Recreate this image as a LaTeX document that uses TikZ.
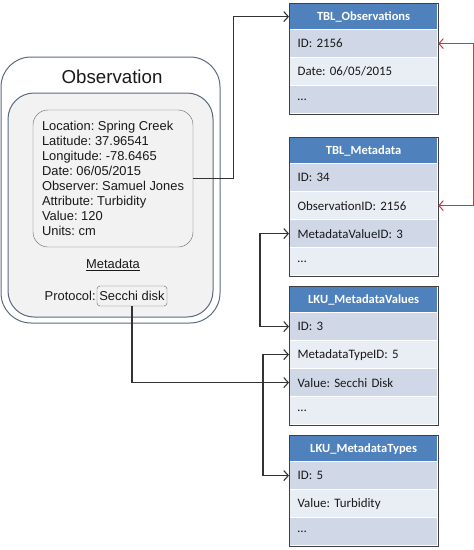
\documentclass[tikz,border=0pt]{standalone}
\usepackage{fontspec}
\setmainfont{Liberation Sans}
\newfontfamily\calfont{Carlito}
\usetikzlibrary{arrows.meta}

\definecolor{hdblue}{HTML}{4F81BD}
\definecolor{rowdark}{HTML}{D0D8E8}
\definecolor{rowlight}{HTML}{E9EDF4}
\definecolor{boxline}{HTML}{5A6A80}
\definecolor{boxfill}{HTML}{F2F2F2}
\definecolor{linkred}{HTML}{E0303A}

% name, top, number of rows, header, rows
\newcommand{\dbtable}[5]{%
  \node[tblhead] (#1) at (289,#2) {#4};
  \foreach \txt [count=\i] in {#5}{
    \ifodd\i \def\rowcol{rowdark}\else\def\rowcol{rowlight}\fi
    \node[tblrow,fill=\rowcol] (#1-\i) at (289,#2+26+28*\i-28) {\txt};
  }
  \draw[tblborder] (#1.north west) rectangle (#1-#3.south east);
}

\begin{document}
\frenchspacing
\begin{tikzpicture}[x=1pt,y=-1pt,>={Straight Barb[length=4.5pt,width=10pt]}]
\tikzstyle{every node}=[font=\fontsize{12.9}{15.1}\selectfont,text=black!90]
\tikzstyle{tblhead}=[anchor=north west,fill=hdblue,draw=white,line width=1.2pt,minimum width=148,minimum height=26,inner sep=0,text=white,font=\calfont\bfseries\fontsize{12.5}{14}\selectfont]
\tikzstyle{tblrow}=[anchor=north west,draw=white,line width=1.2pt,minimum width=148,minimum height=28,text width=132,inner xsep=8,inner ysep=0,align=left,font=\calfont\fontsize{12.9}{15}\selectfont]
\tikzstyle{tblborder}=[draw=black!75,line width=1pt]
\tikzstyle{link}=[->,draw=black!80,line width=1.1pt]
\tikzstyle{redlink}=[<->,draw=linkred,line width=1pt]
\useasboundingbox (0,0) rectangle (474,550);

% observation side
\draw[boxline,line width=1pt,rounded corners=30] (1,57) rectangle (220,323);
\draw[boxline,fill=boxfill,line width=1pt,rounded corners=26] (8,93) rectangle (213,317);
\node[font=\fontsize{18.7}{22}\selectfont] (title) at (112,77) {Observation};
\node[draw=black!60,fill=boxfill,rounded corners=15,minimum width=160,minimum height=137,inner xsep=8,align=left] (info) at (113,178.5)
  {Location: Spring Creek\\Latitude: 37.96541\\Longitude: -78.6465\\Date: 06/05/2015\\Observer: Samuel Jones\\Attribute: Turbidity\\Value: 120\\Units: cm};
\node (mdlabel) at (113,265) {\underline{Metadata}};
\node[draw=black!60,fill=boxfill,rounded corners=3,minimum width=70,minimum height=20,inner sep=2] (secchi) at (132,296) {Secchi disk};
\node[anchor=east,inner sep=1] (protocol) at (secchi.west) {Protocol:};

% tables
\dbtable{obs}{3}{3}{TBL\_Observations}{ID: 2156,Date: 06/05/2015,\ldots}
\dbtable{meta}{137}{4}{TBL\_Metadata}{ID: 34,ObservationID: 2156,MetadataValueID: 3,\ldots}
\dbtable{mval}{286}{4}{LKU\_MetadataValues}{ID: 3,MetadataTypeID: 5,Value: Secchi Disk,\ldots}
\dbtable{mtype}{435}{3}{LKU\_MetadataTypes}{ID: 5,Value: Turbidity,\ldots}

% links
\draw[link] (info.east) -- ++(40,0) |- (obs.west);
\draw[link,<->] (meta-3.west) -- ++(-29,0) |- (mval-1.west);
\draw[link,<->] (mval-2.west) -- ++(-26,0) |- (mtype-1.west);
\draw[link] (secchi.south) |- (mval-3.west);
\draw[redlink] (obs-1.east) -- ++(35,0) |- (meta-2.east);
\end{tikzpicture}
\end{document}
